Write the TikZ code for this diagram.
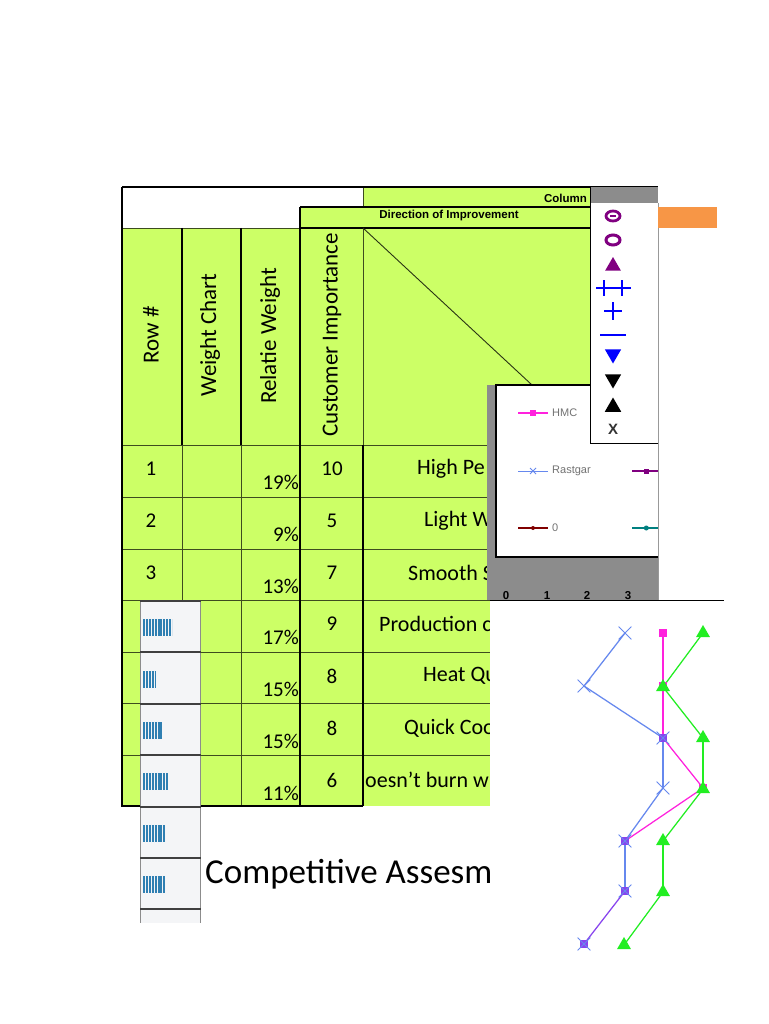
\documentclass[tikz,border=0pt]{standalone}
\usepackage{fontspec}
\setmainfont{Carlito}
\newfontfamily\labelfont{Liberation Sans}
\usetikzlibrary{shapes.geometric, shapes.misc}
\pgfdeclarelayer{marks}
\pgfsetlayers{main,marks}
\definecolor{qfdgreen}{HTML}{CCFF66}
\definecolor{panelgray}{HTML}{8C8C8C}
\definecolor{stripgray}{HTML}{F4F5F7}
\definecolor{barblue}{HTML}{2F7FB2}
\definecolor{hmcpink}{HTML}{FF22DD}
\definecolor{rastblue}{HTML}{6688EE}
\definecolor{markgreen}{HTML}{22EE22}
\definecolor{sharedviolet}{HTML}{8844EE}
\definecolor{symbpurple}{HTML}{800080}
\definecolor{tabcolor}{HTML}{F79646}
\tikzset{
        thickrule/.style={line width=1.5pt, black},
        thinrule/.style={line width=0.7pt, black!70!qfdgreen},
        celltext/.style={inner sep=0pt, font=\fontsize{21}{23}\selectfont},
        headtext/.style={inner sep=0pt, rotate=90, font=\fontsize{23}{25}\selectfont},
        smallhead/.style={inner sep=0pt, font=\labelfont\bfseries\fontsize{11.5}{13}\selectfont},
        legendtext/.style={inner sep=0pt, anchor=west, text=black!55, font=\labelfont\fontsize{11}{12}\selectfont},
        axistext/.style={inner sep=0pt, anchor=base, font=\labelfont\bfseries\fontsize{11.5}{12}\selectfont},
        weightbar/.style={line width=17pt, barblue, dash pattern=on 2pt off 0.9pt},
        tri/.style={regular polygon, regular polygon sides=3, inner sep=0pt, minimum size=#1},
        hmcmark/.style={draw=none, fill=hmcpink, minimum size=8pt, inner sep=0pt},
        sharedmark/.style={draw=none, fill=sharedviolet, minimum size=8pt, inner sep=0pt},
        rastmark/.style={cross out, draw=rastblue, thick, minimum size=12pt, inner sep=0pt},
        greenmark/.style={tri=16pt, fill=markgreen},
        chartline/.style={line width=1.25pt},
        symb/.style={inner sep=0pt}
        }
\begin{document}
\begin{tikzpicture}[x=1pt,y=-1pt]
        \useasboundingbox (0,0) rectangle (768,1024);
        % table body
        \fill[qfdgreen] (122,228) rectangle (590,806);
        \fill[qfdgreen] (300,207) rectangle (590,228);
        \fill[qfdgreen] (363,187) rectangle (590,207);
        \foreach \y in {445,497,549,600,652,703,755}
          \draw[thinrule] (122,\y) -- (590,\y);
        \foreach \x in {182,241}
          \draw[thinrule] (\x,445) -- (\x,806);
        \draw[thinrule] (122,228) -- (300,228);
        \draw[thinrule] (363,187) -- (363,207);
        \draw[thinrule] (363,228) -- (363,445);
        \foreach \x in {182,241}
          \draw[thickrule] (\x,228) -- (\x,445);
        \draw[thickrule] (122,187) -- (590,187);
        \draw[thickrule] (300,207) -- (590,207);
        \draw[thickrule] (300,228) -- (590,228);
        \draw[thickrule] (122,187) -- (122,806) -- (363,806);
        \draw[thickrule] (300,207) -- (300,806);
        \draw[thickrule] (363,445) -- (363,806);
        \draw[line width=0.9pt, black!80!qfdgreen] (363,228) -- (532,385);
        \node[smallhead, anchor=east] (column) at (587,198) {Column};
        \node[smallhead] (direction) at (449,216) {Direction of Improvement};
        \node[headtext] (rownum) at (151,335) {Row \#};
        \node[headtext] (weightchart) at (210,335) {Weight Chart};
        \node[headtext] (relweight) at (270,336) {Relatie Weight};
        \node[headtext] (custimp) at (332,335) {Customer Importance};
        % rows
        \foreach \i/\y/\n/\p/\t/\x in {1/469/10/19/High Pe/417,2/521/5/9/Light W/424,3/573/7/13/Smooth S/408,
            4/624/9/17/Production c/379,5/676/8/15/Heat Qu/423,6/728/8/15/Quick Coo/404,7/780/6/11/oesn’t burn w/365}{
          \node[celltext] (imp\i) at (332,\y) {\n};
          \node[celltext, anchor=east] (pct\i) at (299,\y+13) {\p\%};
          \node[celltext, anchor=west, font=\fontsize{22}{24}\selectfont] (what\i) at (\x,\y) {\t};
        }
        \foreach \i/\y in {1/469,2/521,3/573}
          \node[celltext] (row\i) at (151,\y) {\i};
        % weight chart strip
        \fill[stripgray] (140,601) rectangle (200,923);
        \draw[black!45, line width=0.8pt] (140,601) -- (140,923) (200,601) -- (200,923);
        \foreach \y in {601,652,704,755,807,858,909}
          \draw[black!75, line width=1.5pt] (140,\y) -- (201,\y);
        \foreach \y/\w in {627/29,679/13,730/20,781/26,833/23,884/23}
          \draw[weightbar] (143,\y) -- ++(\w,0);
        \node[inner sep=0pt, anchor=west, font=\fontsize{35}{38}\selectfont] (assess) at (205,874) {Competitive Assesm};
        % legend panel
        \fill[panelgray] (487,385) rectangle (658,600);
        \fill[white] (496,385) rectangle (658,557);
        \draw[thickrule] (658,385) -- (496,385) -- (496,557) -- (658,557);
        \draw[black!40, line width=1pt] (658,385) -- (658,600);
        \foreach \x/\v in {506/0,547/1,587/2,628/3}
          \node[axistext] (tick\v) at (\x,599) {\v};
        \fill[white] (490,601) rectangle (724,960);
        \draw[line width=0.8pt] (490,600.5) -- (724,600.5);
        \coordinate (hmcA) at (518,413);
        \coordinate (rastA) at (518,471);
        \coordinate (zeroA) at (518,528);
        \node[legendtext] (hmcL) at (552,413) {HMC};
        \node[legendtext] (rastL) at (552,471) {Rastgar};
        \node[legendtext] (zeroL) at (552,528) {0};
        \draw[hmcpink, line width=1.2pt] (hmcA) -- ([xshift=-4pt]hmcL.west) node[midway, fill=hmcpink, minimum size=6pt, inner sep=0pt] {};
        \draw[rastblue, line width=1pt] (rastA) -- ([xshift=-4pt]rastL.west) node[midway, cross out, draw=rastblue, minimum size=5pt, inner sep=0pt] {};
        \draw[black!50!red, line width=1.2pt] (zeroA) -- ([xshift=-4pt]zeroL.west) node[midway, circle, fill=black!50!red, minimum size=4pt, inner sep=0pt] {};
        \coordinate (purA) at (632,471);
        \coordinate (purB) at (658,471);
        \coordinate (tealA) at (632,528);
        \coordinate (tealB) at (658,528);
        \draw[symbpurple, line width=1.1pt] (purA) -- (purB) node[pos=0.55, fill=symbpurple, minimum size=5pt, inner sep=0pt] {};
        \draw[teal, line width=1.2pt] (tealA) -- (tealB) node[pos=0.55, circle, fill=teal, minimum size=5pt, inner sep=0pt] {};
        % symbol panel
        \fill[white] (590,186) rectangle (658,443);
        \fill[panelgray] (590,186) rectangle (658,203);
        \draw[line width=0.8pt] (658,443) -- (590,443) -- (590,186) -- (658,186);
        \draw[black!40, line width=1pt] (658,203) -- (658,443);
        \fill[tabcolor] (658,207) rectangle (717,228);
        \node[symb, ellipse, draw=symbpurple, line width=2.8pt, minimum width=14pt, minimum height=10pt] (strongA) at (613,216) {};
        \coordinate (strongW) at ([xshift=-3pt]strongA.center);
        \coordinate (strongE) at ([xshift=3pt]strongA.center);
        \draw[symbpurple, line width=1.4pt] (strongW) -- (strongE);
        \node[symb, ellipse, draw=symbpurple, line width=3pt, minimum width=14pt, minimum height=10pt] (mediumA) at (613,240) {};
        \node[symb, tri=18pt, fill=symbpurple] (weakA) at (613,266) {};
        \coordinate (ppW) at (596,288);
        \coordinate (ppE) at (631,288);
        \draw[blue, line width=1.25pt] (ppW) -- (ppE);
        \draw[blue, line width=1.25pt] (604,280) -- (604,296) (622,280) -- (622,296);
        \coordinate (plW) at (604,311);
        \coordinate (plE) at (622,311);
        \draw[blue, line width=1.25pt] (plW) -- (plE) (613,302) -- (613,320);
        \coordinate (dashW) at (600,335);
        \coordinate (dashE) at (626,335);
        \draw[blue, line width=2.2pt] (dashW) -- (dashE);
        \node[symb, tri=19pt, shape border rotate=180, fill=blue] (downA) at (613,354) {};
        \node[symb, tri=19pt, shape border rotate=180, fill=black] (downB) at (613,379) {};
        \node[symb, tri=19pt, fill=black] (upB) at (613,407) {};
        \node[symb, font=\labelfont\bfseries\fontsize{15}{15}\selectfont, text=black!80] (xmark) at (613,429) {X};
        % competitive lines
        \begin{pgfonlayer}{marks}
        \foreach \i/\x/\y in {1/663/633,2/663/686,4/703/788}
          \node[hmcmark] (h\i) at (\x,\y) {};
        \foreach \i/\x/\y in {3/663/738,5/625/841,6/625/891,7/584/944}
          \node[sharedmark] (h\i) at (\x,\y) {};
        \foreach \i/\x/\y in {1/703/633,2/663/687,3/703/738,4/703/789,5/663/841,6/663/892,7/624/945}
          \node[greenmark] (g\i) at (\x,\y) {};
        \foreach \i/\x/\y in {1/625/633,2/584/686,3/663/738,4/663/788,5/625/841,6/625/891,7/584/944}
          \node[rastmark] (r\i) at (\x,\y) {};
        \end{pgfonlayer}
        \foreach \a/\b in {1/2,2/3,3/4,4/5,5/6,6/7}
          \draw[chartline, markgreen] (g\a.center) -- (g\b.center);
        \foreach \a/\b in {1/2,2/3,3/4,4/5}
          \draw[chartline, hmcpink] (h\a.center) -- (h\b.center);
        \draw[chartline, sharedviolet] (h6.center) -- (h7.center);
        \foreach \a/\b in {1/2,2/3,3/4,4/5,5/6}
          \draw[chartline, rastblue] (r\a.center) -- (r\b.center);
      \end{tikzpicture}
\end{document}
